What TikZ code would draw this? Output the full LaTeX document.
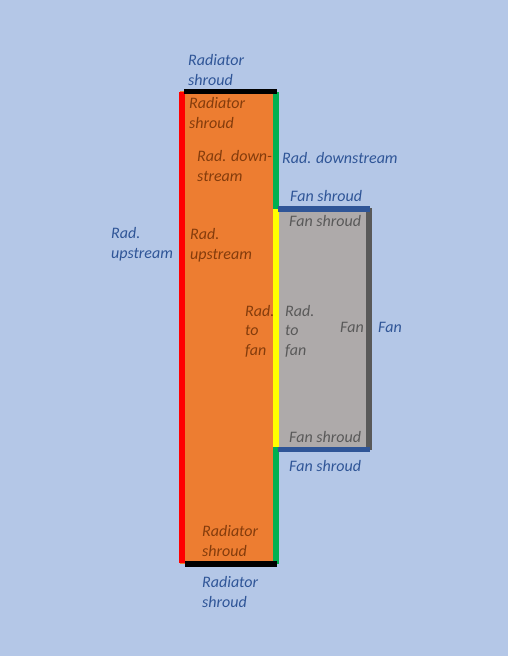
\documentclass[tikz,border=0pt]{standalone}
\usepackage{fontspec}
\setmainfont{Carlito}
\definecolor{bgblue}{HTML}{B4C7E7}
\definecolor{radorange}{HTML}{ED7D31}
\definecolor{fangray}{HTML}{AEAAAA}
\definecolor{darkgray}{HTML}{595959}
\definecolor{shroudblue}{HTML}{2F5597}
\definecolor{brownt}{HTML}{843C0C}
\definecolor{greenl}{HTML}{00B050}
\definecolor{redl}{HTML}{FF0000}
\definecolor{yellowl}{HTML}{FFFF00}
\tikzset{
  lbl/.style={inner sep=0pt, anchor=base west, align=left, font=\fontsize{16}{19.5}\selectfont\itshape},
  outlbl/.style={lbl, text=shroudblue},
  radlbl/.style={lbl, text=brownt},
  fanlbl/.style={lbl, text=darkgray},
  edge/.style={line width=5.5pt}
}
\begin{document}
\begin{tikzpicture}[x=1pt,y=-1pt]
\useasboundingbox (0,0) rectangle (508,656);
\fill[bgblue] (0,0) rectangle (508,656);
% bodies
\fill[radorange] (180,91) rectangle (277,564);
\fill[fangray] (277,209) rectangle (369,449);
% edges
\draw[edge, redl] (182,92) -- (182,563);
\draw[edge, greenl] (276,92) -- (276,209);
\draw[edge, yellowl] (276,209) -- (276,447);
\draw[edge, greenl] (276,447) -- (276,564);
\draw[edge, black] (184,91.5) -- (276.5,91.5);
\draw[edge, black] (185,564) -- (277,564);
\draw[edge, darkgray] (369,208) -- (369,450);
\draw[edge, shroudblue] (278,209) -- (370,209);
\draw[edge, shroudblue] (278,449.5) -- (370,449.5);
% labels outside (multi-line nodes: base = last line)
\node[outlbl] (rsTopOut) at (188,85) {Radiator\\shroud};
\node[outlbl] (rdOut) at (282,163) {Rad. downstream};
\node[outlbl] (fsTopOut) at (290,201.5) {Fan shroud};
\node[outlbl] (ruOut) at (111,258) {Rad.\\upstream};
\node[outlbl] (fanOut) at (378,332) {Fan};
\node[outlbl] (fsBotOut) at (289,471) {Fan shroud};
\node[outlbl] (rsBotOut) at (202,607) {Radiator\\shroud};
% labels inside radiator
\node[radlbl] (rsTopIn) at (189,128) {Radiator\\shroud};
\node[radlbl] (rdIn) at (197,181) {Rad. down-\\stream};
\node[radlbl] (ruIn) at (190,259) {Rad.\\upstream};
\node[radlbl] (rfIn) at (245,355) {Rad.\\to\\fan};
\node[radlbl] (rsBotIn) at (202,556) {Radiator\\shroud};
% labels inside fan
\node[fanlbl] (fsTopIn) at (289,226.5) {Fan shroud};
\node[fanlbl] (rfFan) at (285,355) {Rad.\\to\\fan};
\node[fanlbl, anchor=base east] (fanIn) at (364,332) {Fan};
\node[fanlbl] (fsBotIn) at (289,442) {Fan shroud};
\end{tikzpicture}
\end{document}
